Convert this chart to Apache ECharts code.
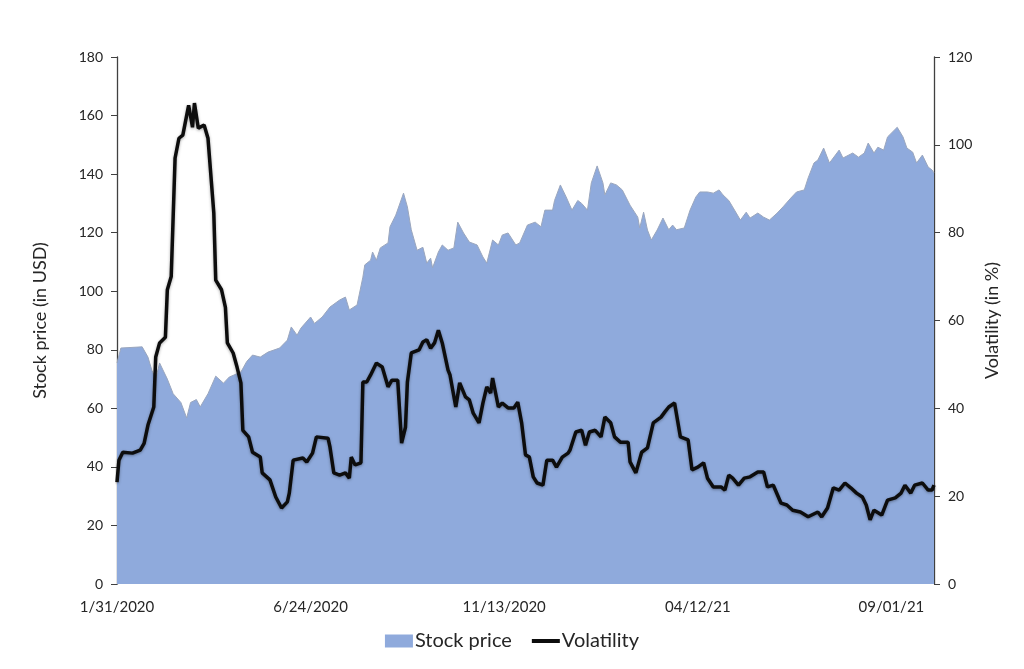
<!DOCTYPE html>
<html>
<head>
<meta charset="utf-8">
<script src="https://cdn.jsdelivr.net/npm/echarts@6/dist/echarts.min.js"></script>
<style>
  html, body { margin: 0; padding: 0; background: #fff; }
  #chart { width: 1024px; height: 669px; }
</style>
</head>
<body>
<div id="chart"></div>
<script>
// trading-day index (0 = 1/31/2020) and value
var priceDay = [0,2,13,16,18,20,22,26,29,33,36,38,41,43,47,51,55,58,64,67,70,74,78,84,88,90,93,95,100,102,106,110,115,118,120,124,127,128,131,132,134,136,140,141,144,148,150,152,155,158,160,162,163,166,168,171,174,176,179,182,186,189,191,194,197,199,202,206,208,212,216,219,221,225,226,229,232,235,238,240,243,245,248,251,252,255,258,261,265,269,270,272,274,276,279,282,285,287,289,293,296,299,301,305,308,311,313,316,318,322,325,327,331,334,337,341,344,348,351,355,357,360,362,365,368,373,375,380,383,386,388,391,393,396,398,403,406,408,411,413,416,419,421,422];
var price    = [75.5,80.6,81,77.5,73,70,75.5,70,65,62,56.7,62,63,60.5,65,71,68.6,70.7,72.4,76,78.2,77.5,79.2,80.6,83.3,87.8,85,87.4,91.2,89,91.2,94.6,97,98,93.6,95.3,104.8,109,110.6,113.4,110.6,114.8,116.5,122,126,133.5,128.8,121,114,115,109.6,111.3,108,113.4,115.8,114,114.8,123.6,119.9,116.8,115.8,111.7,109.6,117.5,115.8,119.2,119.9,115.8,116.5,122.6,123.6,122,127.7,127.7,131,136.3,132.2,127.7,131,130,127.7,137,142.8,137,132.9,137,136.3,134.6,129.4,125.3,121.6,127,120.9,117.5,120.9,125,121,122.6,121,121.6,127.7,132.2,133.9,133.9,133.5,134.6,132.9,131,128.8,124.3,127,125,126.7,125.3,124.3,126.7,128.8,131.8,133.9,134.6,138.7,143.8,144.8,148.9,143.8,148.2,145.5,147.2,145.8,147.2,150.6,147.2,149.2,148.2,152.7,156,152.7,148.9,147.5,143.8,146.5,142.4,141.4,140.4];

var volDay = [0,1,3,8,12,14,16,19,20,22,25,26,28,30,32,34,37,39,40,42,45,47,50,51,54,56,57,60,62,64,65,68,70,74,75,79,82,85,88,89,91,96,98,101,103,109,110,112,115,118,120,121,123,126,127,129,131,134,137,140,142,145,147,149,150,152,156,158,160,162,164,166,168,171,172,175,177,180,182,184,187,189,191,193,194,197,199,202,205,207,209,211,213,215,217,220,222,225,227,230,233,234,237,240,242,244,247,250,252,255,257,260,264,265,268,269,271,274,277,281,283,285,288,291,295,297,300,303,305,308,312,314,316,318,321,324,327,331,334,336,339,343,346,349,353,357,358,362,364,367,370,373,376,379,382,385,387,389,391,395,398,402,405,407,410,412,416,419,421,422];
var vol    = [23.2,28.2,30,29.8,30.5,32,36.2,40.3,51.7,54.9,56.2,67,70,97,101.5,102.2,109,104,109.5,103.8,104.5,101.5,84.5,69.2,67,63,54.9,52.6,49.4,45.8,35,33.5,30,28.9,25.3,23.7,19.8,17.3,18.7,20.7,28.2,28.7,27.8,29.8,33.5,33.2,31.2,25.3,24.8,25.3,24.1,28.9,27.1,27.6,46,46,47.6,50.3,49.4,44.9,46.4,46.4,32.1,35.7,46,52.6,53.3,55.1,55.6,53.7,54.9,57.8,54.9,48.7,47.6,40.3,45.8,42.6,41.9,38.9,36.7,41.2,44.9,43.5,46.9,40.3,41.2,40.1,40.1,41.4,36.7,29.4,28.9,24.4,23,22.5,28.2,28.2,26.6,28.9,29.8,30.5,34.6,35,31.6,34.6,35,33.5,38,36.7,33.5,32.3,32.3,27.8,25.3,25.3,30,31,36.7,38,39.2,40.3,41.2,33.5,32.8,26,26.6,27.6,24.1,22.1,22.1,21.4,24.8,24.1,22.5,24.1,24.4,25.5,25.5,22.1,22.5,18.4,18,16.8,16.4,15.3,15,16.4,15.3,17.3,21.9,21.4,23,21.9,20.7,19.8,18,14.6,16.8,15.7,19.1,19.6,20.7,22.5,20.7,22.5,23,21.4,21.4,22.5];

var dateTicks = ['1/31/2020', '6/24/2020', '11/13/2020', '04/12/21', '09/01/21'];

function pairs(xs, ys) {
  var out = [];
  for (var i = 0; i < xs.length; i++) out.push([xs[i], ys[i]]);
  return out;
}

var chartDom = document.getElementById('chart');
var myChart = echarts.init(chartDom);
var font = 'Lato, "Liberation Sans", sans-serif';
var axisColor = '#404040';

var option = {
  animation: false,
  textStyle: { fontFamily: font },
  grid: { left: 117, right: 90, top: 57, bottom: 85 },
  legend: {
    bottom: 13,
    left: 'center',
    itemWidth: 28,
    itemHeight: 13,
    itemGap: 20,
    symbolKeepAspect: true,
    textStyle: { fontSize: 20, color: '#262626', fontFamily: font, padding: [0, 0, 0, -3] },
    data: [
      { name: 'Stock price', icon: 'rect' },
      { name: 'Volatility', icon: 'path://M0,0H28V4H0Z' }
    ]
  },
  xAxis: {
    type: 'value',
    min: 0,
    max: 422,
    interval: 100,
    splitLine: { show: false },
    axisLine: { show: false },
    axisTick: { show: false },
    axisLabel: {
      margin: 16,
      fontSize: 15,
      color: '#262626',
      formatter: function (v) {
        var t = dateTicks[v / 100];
        return t === undefined ? '' : t;
      }
    }
  },
  yAxis: [
    {
      type: 'value',
      min: 0, max: 180, interval: 20,
      name: 'Stock price (in USD)',
      nameLocation: 'middle',
      nameGap: 68,
      nameTextStyle: { fontSize: 18, color: '#262626' },
      splitLine: { show: false },
      axisLine: { show: true, lineStyle: { color: axisColor, width: 1.3 } },
      axisTick: { show: true, length: 6, lineStyle: { color: axisColor } },
      axisLabel: { fontSize: 14, color: '#262626', margin: 14 }
    },
    {
      type: 'value',
      min: 0, max: 120, interval: 20,
      name: 'Volatility (in %)',
      nameLocation: 'middle',
      nameGap: 48,
      nameTextStyle: { fontSize: 18, color: '#262626' },
      splitLine: { show: false },
      axisLine: { show: true, lineStyle: { color: axisColor, width: 1.3 } },
      axisTick: { show: true, length: 6, lineStyle: { color: axisColor } },
      axisLabel: { fontSize: 14, color: '#262626', margin: 14 }
    }
  ],
  series: [
    {
      name: 'Stock price',
      type: 'line',
      yAxisIndex: 0,
      symbol: 'none',
      color: '#8faadc',
      lineStyle: { width: 1, color: '#9aa6bd' },
      areaStyle: { color: '#8faadc', opacity: 1 },
      data: pairs(priceDay, price)
    },
    {
      name: 'Volatility',
      type: 'line',
      yAxisIndex: 1,
      symbol: 'none',
      color: '#0d0d0d',
      lineStyle: {
        width: 3.5,
        color: '#0d0d0d',
        shadowBlur: 3,
        shadowColor: 'rgba(0,0,0,0.35)',
        shadowOffsetY: 1
      },
      data: pairs(volDay, vol)
    }
  ]
};

option && myChart.setOption(option);
</script>
</body>
</html>
